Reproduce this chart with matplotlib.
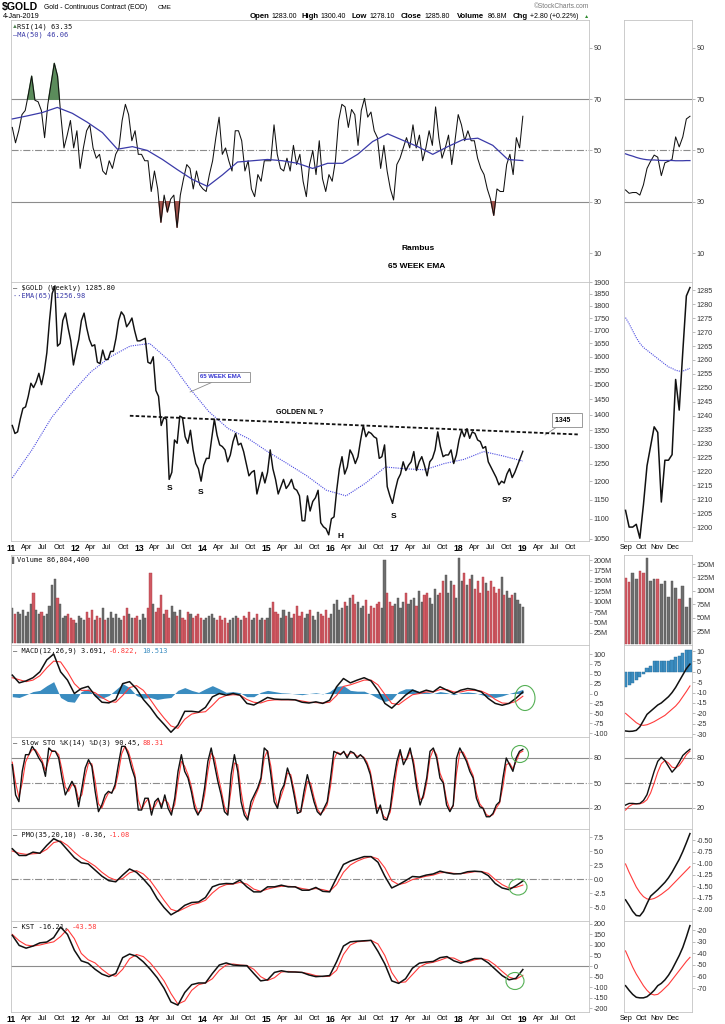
import numpy as np
import matplotlib.pyplot as plt
from matplotlib.patches import Ellipse
from matplotlib.ticker import NullLocator

plt.rcParams['font.family'] = ['Liberation Sans', 'DejaVu Sans']

W, H = 725, 1024

# --- weekly window: Jan 2011 .. 4 Jan 2019 ---
T0, T1 = 2011.02, 2019.01

price = [
    # 2011
    1365, 1340, 1345, 1385, 1420, 1425, 1460, 1505, 1490, 1510, 1540, 1500,
    1545, 1615, 1740, 1852, 1884, 1640, 1650, 1740, 1770, 1710, 1660, 1570,
    # 2012
    1620, 1665, 1740, 1770, 1710, 1665, 1640, 1645, 1580, 1575, 1625, 1590,
    1590, 1620, 1620, 1670, 1740, 1775, 1760, 1715, 1730, 1750, 1700, 1660,
    # 2013
    1660, 1665, 1670, 1580, 1575, 1600, 1480, 1460, 1365, 1390, 1385, 1205,
    1225, 1320, 1310, 1395, 1390, 1330, 1310, 1350, 1290, 1250, 1235, 1200,
    # 2014
    1245, 1265, 1265, 1325, 1385, 1335, 1305, 1300, 1290, 1255, 1275, 1315,
    1340, 1305, 1310, 1285, 1250, 1215, 1225, 1230, 1165, 1195, 1225, 1195,
    # 2015
    1225, 1290, 1235, 1205, 1165, 1185, 1205, 1180, 1190, 1205, 1180, 1175,
    1160, 1095, 1095, 1160, 1120, 1145, 1155, 1175, 1090, 1080, 1075, 1060,
    # 2016
    1100, 1105, 1175, 1235, 1270, 1220, 1240, 1290, 1275, 1250, 1270, 1320,
    1365, 1330, 1345, 1340, 1330, 1325, 1265, 1270, 1305, 1185, 1160, 1140,
    # 2017
    1175, 1205, 1220, 1255, 1230, 1245, 1255, 1285, 1230, 1255, 1270, 1245,
    1215, 1255, 1265, 1290, 1345, 1300, 1270, 1275, 1275, 1290, 1250, 1275,
    # 2018
    1320, 1350, 1330, 1355, 1325, 1345, 1340, 1320, 1315, 1295, 1300, 1255,
    1240, 1225, 1210, 1190, 1200, 1195, 1220, 1235, 1210, 1225, 1245, 1265,
    1285.8,
]

price_ema = [1209, 1290, 1390, 1470, 1545, 1600, 1640, 1650, 1585, 1490, 1410,
             1355, 1325, 1285, 1250, 1215, 1175, 1160, 1195, 1240, 1235, 1232,
             1250, 1262, 1285, 1272, 1257]

volume = [
    85, 70, 75, 70, 80, 65, 75, 95, 120, 80, 70, 75, 65, 70, 90, 140, 155, 110, 95, 60, 65, 70, 60, 55,
    50, 65, 60, 55, 75, 60, 80, 55, 65, 60, 85, 55, 60, 75, 60, 70, 60, 55, 65, 85, 70, 60, 60, 65,
    55, 70, 60, 85, 170, 95, 75, 85, 115, 70, 80, 60, 90, 75, 65, 80, 60, 55, 75, 70, 60, 65, 70, 60,
    55, 60, 65, 70, 60, 55, 65, 55, 60, 50, 55, 60, 65, 60, 55, 65, 60, 75, 55, 60, 70, 55, 60, 55,
    60, 85, 100, 75, 70, 60, 80, 65, 75, 60, 70, 90, 65, 75, 60, 70, 80, 65, 55, 75, 70, 65, 80, 60,
    70, 95, 105, 80, 85, 100, 90, 110, 115, 95, 100, 85, 90, 105, 70, 90, 85, 95, 100, 85, 200, 120, 100, 90,
    95, 110, 85, 100, 120, 95, 105, 110, 90, 125, 100, 115, 120, 110, 95, 130, 115, 120, 150, 165, 120, 150, 140, 110,
    205, 150, 170, 140, 155, 165, 130, 150, 120, 160, 145, 125, 150, 135, 120, 130, 160, 115, 125, 110, 115, 120, 105, 95,
    87,
]

rsi = [59, 53, 57.7, 64, 65.6, 72, 79, 69.6, 69, 65.6,
       55, 68, 76, 84, 79, 64, 51, 56, 61.7, 51,
       57.7, 43, 51, 57.7, 60, 51, 47, 48.5, 42, 40.6,
       46, 43, 48.5, 51, 61.7, 68, 64, 53.8, 57.7, 48.5,
       48.5, 46, 46, 34, 42, 35, 22, 32.6, 26, 31,
       32.6, 20, 32.6, 39, 44.5, 43, 35, 42, 36.6, 35,
       34, 40.6, 46, 55, 63, 48.5, 51, 46, 42, 57.7,
       57.7, 53.8, 42, 46, 35, 32, 40.6, 38, 46, 46,
       46, 60, 48.5, 43, 42, 47, 42, 52, 44.5, 48.5,
       38, 32, 44.5, 50, 40.6, 53.8, 39, 34, 40.6, 38,
       46, 61.7, 68, 67, 59, 66, 64, 52, 65.6, 70.3,
       63, 65, 57.7, 55, 43, 52, 42, 35, 30.7, 44.5,
       47, 51, 55, 51, 60, 51, 56, 46, 51, 57.7,
       52, 67, 55, 47, 51, 56, 44.5, 53.8, 64, 60,
       53.8, 57.7, 53.8, 53.8, 47, 43, 40.6, 35, 31, 24.7,
       35, 34, 34, 44.5, 48.5, 40.6, 55, 51, 63.35]

rsi_ma = [62.3, 63.5, 64.8, 66.8, 64.5, 61, 57, 50.5, 51.5, 50, 46.5, 42.5,
          38.7, 36, 40.5, 45.5, 46, 46.5, 46, 45, 43, 45, 45, 48.5, 53.5,
          56.5, 54, 51.5, 48.5, 51.5, 54.2, 54.8, 52, 46.5, 46.06]

macd = [46.6, 27, 32, 40, 55, 85, 100, 55, 34, 0,
        12.7, 18, -5, -22, -23.7, -15, 25, 30, 12, -15,
        -35, -59, -78, -98, -80, -45, -45, -47, -35, -8.5,
        0, -4, 0, -4, -25, -29, -20, -10, -14, -15,
        -15, -16, -22, -24, -21, -25, -17, 17, 38, 27,
        34, 40, 32, 8, -25, -37, -21, -4, 8.5, 2,
        8.5, 4, 17, 8.5, 0, 8.5, 12.7, 10, 4, -12.7,
        -25, -29.7, -25, -12, 3.691]
macd_sig = [40, 35, 30, 34, 45, 65, 82, 80, 55, 25,
            8, 8, 2, -10, -20, -22, -5, 15, 20, 8,
            -15, -40, -62, -82, -88, -65, -52, -48, -46, -30,
            -12, -5, -3, -4, -15, -22, -24, -18, -16, -16,
            -16, -16, -19, -22, -23, -24, -22, -5, 18, 22,
            28, 34, 34, 22, -2, -25, -28, -15, -3, 0,
            4, 4, 10, 10, 4, 4, 8, 8, 6, -2,
            -15, -24, -25, -20, -6.822]
macd_hist = [-8, -10, -3, 5, 8, 20, 30, -10, -20, -22,
             5, 12, -8, -12, -5, 10, 25, 15, -5, -12,
             -10, -15, -12, -10, 8, 15, 8, 3, 12, 20,
             12, 3, 5, 2, -8, -8, 3, 8, 5, 2,
             1, -1, -3, 0, 2, -1, 5, 18, 20, 8,
             6, 6, -2, -12, -20, -15, 5, 12, 12, 5,
             4, 0, 5, 2, -3, 2, 4, 2, -3, -8,
             -10, -6, 0, 5, 10.513]

sto_k = [72, 35.7, 27.6, 64, 84, 84, 94, 88, 80, 74,
         58, 92, 88, 88, 80, 56, 35.7, 44, 52, 44,
         21.6, 44, 68, 78, 70, 40, 15.6, 23.6, 35.7, 40,
         37.7, 48, 72, 94, 94, 84, 68, 56, 17.6, 17.6,
         31.7, 31.7, 11.5, 27.6, 31.7, 19.6, 35.7, 19.6, 11.5, 31.7,
         64, 84, 64, 56, 40, 19.6, 11.5, 19.6, 44, 76,
         92, 72, 52, 35.7, 15.6, 11.5, 60, 84, 64, 27.6,
         11.5, 5.5, 27.6, 35.7, 44, 56, 92, 88, 60, 27.6,
         19.6, 40, 48, 68, 56, 35.7, 13.5, 15.6, 40, 60,
         44, 27.6, 15.6, 11.5, 19.6, 27.6, 56, 88, 86, 84,
         88, 80, 88, 86, 80, 84, 80, 72, 60, 35.7,
         13.5, 23.6, 6.7, 5.5, 19.6, 52, 76, 90, 72, 80,
         92, 72, 44, 23.6, 35.7, 56, 88, 92, 80, 56,
         50, 23.6, 15.6, 23.6, 80, 92, 84, 76, 64, 56,
         31.7, 21.6, 19.6, 9.5, 9.5, 13.5, 23.6, 27.6, 56, 80,
         72, 64, 80, 88, 90.45]
sto_d = [75, 50, 33, 50, 75, 84, 90, 90, 84, 77,
         65, 78, 89, 88, 84, 66, 45, 40, 48, 47,
         30, 36, 58, 74, 73, 52, 25, 20, 30, 38,
         39, 44, 62, 85, 94, 88, 75, 60, 30, 18,
         26, 31, 18, 22, 30, 24, 30, 26, 15, 24,
         52, 76, 70, 60, 46, 26, 14, 17, 35, 64,
         86, 80, 60, 42, 22, 13, 42, 74, 72, 40,
         17, 8, 20, 32, 41, 52, 80, 89, 70, 38,
         22, 33, 45, 62, 60, 42, 20, 15, 32, 52,
         50, 33, 19, 13, 17, 24, 46, 78, 87, 85,
         87, 83, 86, 86, 82, 83, 81, 75, 64, 42,
         20, 20, 10, 7, 15, 40, 68, 86, 78, 78,
         88, 78, 52, 30, 32, 50, 80, 90, 84, 62,
         52, 30, 18, 22, 62, 87, 87, 79, 68, 59,
         38, 25, 20, 12, 10, 12, 20, 26, 46, 72,
         74, 67, 76, 86, 88.31]

pmo = [5.4, 4.2, 4.2, 4.8, 4.6, 6.0, 7.2, 6.6, 5.2, 3.8,
       2.9, 2.7, 1.6, 0.5, -0.3, -0.5, 0.7, 1.8, 1.2, 0.0,
       -1.4, -3.5, -5.1, -6.4, -5.7, -4.7, -4.2, -4.1, -3.3, -1.4,
       -0.95, -0.8, -0.85, -0.2, -1.4, -2.3, -2.3, -1.4, -1.4, -1.1,
       -1.4, -1.4, -2.0, -2.0, -1.5, -2.2, -2.3, 0.2, 2.6, 3.2,
       3.6, 4.0, 4.0, 3.0, 0.5, -1.6, -1.0, -0.3, 0.45, 0.35,
       0.7, 0.9, 1.4, 1.1, 0.9, 0.95, 1.3, 1.4, 1.3, 0.6,
       -0.8, -1.6, -1.9, -1.2, -0.36]
pmo_sig = [5.0, 4.6, 4.4, 4.5, 4.6, 5.3, 6.5, 6.8, 6.0, 4.8,
           3.8, 3.1, 2.3, 1.2, 0.3, -0.2, 0.1, 1.1, 1.5, 0.9,
           -0.3, -2.0, -3.8, -5.4, -5.8, -5.2, -4.6, -4.3, -3.8, -2.5,
           -1.5, -1.0, -0.9, -0.6, -0.9, -1.8, -2.2, -1.8, -1.5, -1.3,
           -1.3, -1.4, -1.7, -1.9, -1.7, -1.9, -2.2, -1.0, 1.2, 2.5,
           3.2, 3.7, 4.0, 3.6, 2.0, -0.3, -1.0, -0.7, -0.1, 0.2,
           0.5, 0.7, 1.1, 1.2, 1.0, 0.95, 1.1, 1.3, 1.35, 1.0,
           -0.1, -1.0, -1.6, -1.5, -1.08]

kst = [146, 98, 85, 95, 110, 114, 135, 185, 150, 75,
       25, 14, -15, -38, -50, -35, 40, 57, 47, 20,
       -15, -55, -105, -170, -185, -125, -88, -80, -80, -35,
       5, 15, 5, 3, 2, -35, -70, -65, -30, -22,
       -28, -28, -30, -42, -50, -48, -45, 20, 95, 115,
       118, 120, 122, 70, 10, -70, -82, -60, -10, 14,
       19, 22, 40, 45, 25, 14, 25, 36, 36, 15,
       -15, -45, -65, -58, -16.21]
kst_sig = [150, 120, 100, 95, 100, 108, 115, 140, 175, 130,
           60, 30, 15, -15, -40, -48, -15, 35, 55, 45,
           15, -25, -70, -130, -180, -165, -115, -88, -80, -60,
           -20, 5, 10, 5, 3, -15, -50, -68, -55, -28,
           -25, -28, -30, -36, -45, -50, -48, -20, 55, 100,
           115, 118, 122, 105, 50, -30, -78, -75, -40, -5,
           12, 18, 28, 40, 38, 22, 20, 30, 36, 28,
           5, -25, -52, -62, -43.58]

# neckline drawn on the price panel
neck_t = [2012.86, 2019.87]
neck_v = [1396, 1337]

# --- zoom window: weekly, 31 Aug 2018 .. 4 Jan 2019 ---
zoom_dates = np.arange(np.datetime64('2018-08-31'), np.datetime64('2019-01-05'), 7)
price_z = [1206, 1200, 1200, 1201, 1196, 1208, 1222, 1229, 1236, 1234, 1209,
           1224, 1224, 1226, 1253, 1242, 1263, 1283, 1286]
ema_z = [1275.2, 1273, 1270.5, 1268, 1266, 1264.5, 1263.5, 1262.5, 1261.5,
         1260.5, 1259.5, 1258.5, 1257.5, 1257, 1256.3, 1256, 1256, 1256.5, 1257]
rsi_z = [34.6, 33.3, 33.6, 33.6, 32.6, 36.6, 43.0, 45.8, 48.2, 47.4, 40.2,
         45.2, 45.8, 46.5, 55.3, 51.4, 55.3, 62.3, 63.35]
rsi_ma_z = [48.7, 48.2, 47.8, 47.3, 46.9, 46.6, 46.4, 46.3, 46.3, 46.2, 46.1,
            46.1, 46.1, 46.1, 46.0, 46.0, 46.0, 46.06, 46.06]
vol_z = [124, 116, 133, 122, 137.5, 133, 161, 117.5, 122, 122, 112.5, 119,
         89, 117.5, 105, 85, 109, 69, 87]
vol_z_down = [1, 1, 0, 0, 1, 1, 0, 0, 0, 1, 0, 0, 0, 0, 0, 1, 0, 0, 0]
macd_z = [-28.5, -28.7, -28.6, -28.2, -26.5, -23.5, -20.5, -19, -17.5, -16,
          -15, -13.5, -12, -10, -7.5, -4.5, -1.5, 1.5, 3.691]
macd_sig_z = [-20, -21.5, -23, -24.5, -25.5, -25.8, -25.5, -24.8, -24, -23,
              -22, -21, -19.5, -18, -16.5, -14.5, -12, -9.5, -6.822]
macd_hist_z = [-7.5, -6.5, -5.5, -4, -2.5, -1, 2, 3, 5, 5, 5, 5, 5, 5.5, 7,
               7.5, 9, 10.5, 10.5]
sto_k_z = [23.5, 25.5, 25.5, 25, 25.5, 29, 36, 50, 64, 76, 81, 77, 70, 63,
           68, 75, 83, 87, 90.45]
sto_d_z = [17.5, 22, 24.5, 25, 25, 26.5, 30, 38, 50, 63, 73, 77, 74, 69, 68,
           71, 77, 84, 88.31]
pmo_z = [-1.80, -1.92, -2.05, -2.14, -2.15, -2.05, -1.88, -1.72, -1.65, -1.58,
         -1.50, -1.42, -1.32, -1.20, -1.06, -0.92, -0.75, -0.56, -0.36]
pmo_sig_z = [-1.02, -1.20, -1.36, -1.52, -1.64, -1.73, -1.78, -1.79, -1.77,
             -1.73, -1.68, -1.62, -1.56, -1.48, -1.40, -1.32, -1.24, -1.16, -1.08]
kst_z = [-68, -72, -75.5, -78, -78.5, -78.5, -77.5, -75, -72, -68, -66, -63,
         -59, -54, -48, -42, -35, -26, -16.21]
kst_sig_z = [-38, -45, -52, -58, -63, -68, -72, -75, -76, -75.5, -73, -70,
             -67, -63, -59, -55, -51, -47, -43.58]

# --- layout helpers ---
fig = plt.figure(figsize=(W / 100, H / 100), dpi=100)
fig.patch.set_facecolor('white')

MX0, MX1 = 11, 589
SX0, SX1 = 624, 692
ROWS = [(20, 282), (282, 541), (555, 645), (645, 737), (737, 829), (829, 921), (921, 1012)]
MAIN_XLIM = (2011.0, 2011.0 + (MX1 - MX0) / 63.9)
ZOOM_XLIM = (np.datetime64('2018-08-28'), np.datetime64('2019-01-08'))

BLACK = '#111111'
RED = '#ff3b3b'
BLUE = '#3a3aa8'
GRID = '#8c8c8c'
MONO = 'DejaVu Sans Mono'


def axes_px(x0, y0, x1, y1):
    return fig.add_axes([x0 / W, 1 - y1 / H, (x1 - x0) / W, (y1 - y0) / H])


def txt(x, y, s, **kw):
    kw.setdefault('fontsize', 5.3)
    kw.setdefault('va', 'center')
    kw.setdefault('ha', 'left')
    fig.text(x / W, 1 - y / H, s, **kw)


def style(ax, ylim, ticks, labels, log=False):
    if log:
        ax.set_yscale('log')
    ax.set_ylim(*ylim)
    ax.yaxis.tick_right()
    ax.set_yticks(ticks)
    ax.set_yticklabels(labels)
    ax.yaxis.set_minor_locator(NullLocator())
    ax.tick_params(axis='y', which='both', direction='out', length=2.5, width=0.5,
                   colors='#a0a0a0', labelcolor='#333333', labelsize=5.2, pad=1)
    ax.tick_params(axis='x', length=0, labelbottom=False)
    for sp in ax.spines.values():
        sp.set_color('#c4c4c4')
        sp.set_linewidth(0.6)


def legend(y, parts, x=13):
    # parts: list of (text, colour); monospace so offsets follow char count
    cw = 0.602 * 5.0 * 100 / 72
    pos = x
    for s, c in parts:
        txt(pos, y, s, fontsize=5.0, family=MONO, color=c)
        pos += (len(s) + 1) * cw


def hline(ax, v, ls='-'):
    ax.axhline(v, color=GRID, lw=0.8, ls=ls, zorder=1)


main, zoom = [], []
for top, bot in ROWS:
    a = axes_px(MX0, top, MX1, bot)
    b = axes_px(SX0, top, SX1, bot)
    a.set_xlim(*MAIN_XLIM)
    main.append(a)
    zoom.append(b)

ax_rsi, ax_px, ax_vol, ax_macd, ax_sto, ax_pmo, ax_kst = main
zr, zp, zv, zm, zs, zpm, zk = zoom


def tline(series):
    return np.linspace(T0, T1, len(series))


# --- RSI ---
t = tline(rsi)
r = np.array(rsi)
ax_rsi.plot(t, r, color=BLACK, lw=0.75, zorder=3)
ax_rsi.fill_between(t, r, 70, where=r > 70, interpolate=True, color='#5b8c5b', zorder=2)
ax_rsi.fill_between(t, r, 30, where=r < 30, interpolate=True, color='#a3524c', zorder=2)
ax_rsi.plot(tline(rsi_ma), rsi_ma, color=BLUE, lw=0.9, zorder=3)
zr.plot(zoom_dates, rsi_z, color=BLACK, lw=0.75, zorder=3)
zr.plot(zoom_dates, rsi_ma_z, color=BLUE, lw=0.9, zorder=3)
for a in (ax_rsi, zr):
    hline(a, 70)
    hline(a, 30)
    hline(a, 50, ls='-.')
    style(a, (-1.3, 100.9), [10, 30, 50, 70, 90], ['10', '30', '50', '70', '90'])

# --- price ---
ax_px.plot(tline(price), price, color=BLACK, lw=1.05, zorder=3)
ax_px.plot(tline(price_ema), price_ema, color='#4a4ae0', lw=0.8, ls=(0, (1, 1)), zorder=2)
ax_px.plot(neck_t, neck_v, color=BLACK, lw=1.3, ls=(0, (2, 1.2)), zorder=4)
zp.plot(zoom_dates, price_z, color=BLACK, lw=1.1, zorder=3)
zp.plot(zoom_dates, ema_z, color='#4a4ae0', lw=0.8, ls=(0, (1, 1)), zorder=2)
pt = list(range(1050, 1901, 50))
style(ax_px, (1045, 1902), pt, [str(v) for v in pt], log=True)
zt = list(range(1200, 1286, 5))
style(zp, (1195, 1288), zt, [str(v) for v in zt])

# --- volume ---
tv = tline(volume)
step = tv[1] - tv[0]
down = np.r_[False, np.diff(price) < 0]
ax_vol.bar(tv, volume, width=step * 0.8,
           color=np.where(down, '#cf5a63', '#6e6e6e'),
           edgecolor=np.where(down, '#b03a44', '#505050'), linewidth=0.3, zorder=2)
zv.bar(zoom_dates, vol_z, width=5.2,
       color=['#cf5a63' if d else '#6e6e6e' for d in vol_z_down],
       edgecolor=['#b03a44' if d else '#505050' for d in vol_z_down], linewidth=0.3)
vt = [25, 50, 75, 100, 125, 150, 175, 200]
style(ax_vol, (-3.8, 212), vt, [f'{v}M' for v in vt])
style(zv, (-1.1, 166.8), vt[:6], [f'{v}M' for v in vt[:6]])

# --- MACD ---
tm = tline(macd)
ax_macd.fill_between(tm, macd_hist, 0, color='#3a8cc0', lw=0, zorder=2)
ax_macd.plot(tm, macd_sig, color=RED, lw=0.8, zorder=3)
ax_macd.plot(tm, macd, color=BLACK, lw=1.1, zorder=4)
zm.bar(zoom_dates, macd_hist_z, width=6.2, color='#3a8cc0', edgecolor='#2a6d99', linewidth=0.3)
zm.plot(zoom_dates, macd_sig_z, color=RED, lw=0.8)
zm.plot(zoom_dates, macd_z, color=BLACK, lw=1.1)
mt = [-100, -75, -50, -25, 0, 25, 50, 75, 100]
style(ax_macd, (-110, 122.8), mt, [str(v) for v in mt])
zmt = [-30, -25, -20, -15, -10, -5, 0, 5, 10]
style(zm, (-31.4, 12.9), zmt, [str(v) for v in zmt])

# --- slow stochastic ---
ts = tline(sto_k)
ax_sto.plot(ts, sto_d, color=RED, lw=0.8, zorder=3)
ax_sto.plot(ts, sto_k, color=BLACK, lw=1.0, zorder=4)
zs.plot(zoom_dates, sto_d_z, color=RED, lw=0.8)
zs.plot(zoom_dates, sto_k_z, color=BLACK, lw=1.0)
for a in (ax_sto, zs):
    hline(a, 80)
    hline(a, 20)
    hline(a, 50, ls='-.')
    style(a, (-5.2, 105.2), [20, 50, 80], ['20', '50', '80'])

# --- PMO ---
tp = tline(pmo)
ax_pmo.plot(tp, pmo_sig, color=RED, lw=0.8, zorder=3)
ax_pmo.plot(tp, pmo, color=BLACK, lw=1.1, zorder=4)
hline(ax_pmo, 0, ls='-.')
zpm.plot(zoom_dates, pmo_sig_z, color=RED, lw=0.8)
zpm.plot(zoom_dates, pmo_z, color=BLACK, lw=1.1)
pmt = [-5.0, -2.5, 0.0, 2.5, 5.0, 7.5]
style(ax_pmo, (-7.5, 8.93), pmt, [f'{v:.1f}' for v in pmt])
zpt = [-2.0, -1.75, -1.5, -1.25, -1.0, -0.75, -0.5]
style(zpm, (-2.26, -0.26), zpt, [f'{v:.2f}' for v in zpt])

# --- KST ---
tk = tline(kst)
ax_kst.plot(tk, kst_sig, color=RED, lw=0.8, zorder=3)
ax_kst.plot(tk, kst, color=BLACK, lw=1.1, zorder=4)
hline(ax_kst, 0)
zk.plot(zoom_dates, kst_sig_z, color=RED, lw=0.8)
zk.plot(zoom_dates, kst_z, color=BLACK, lw=1.1)
kt = list(range(-200, 201, 50))
style(ax_kst, (-217.5, 213.7), kt, [str(v) for v in kt])
zkt = [-70, -60, -50, -40, -30, -20]
style(zk, (-90.7, -12.2), zkt, [str(v) for v in zkt])

for a in zoom:
    a.set_xlim(*ZOOM_XLIM)

# --- date labels ---
tick_pos, tick_lab = [], []
for yr in range(2011, 2020):
    tick_pos += [yr, yr + 0.25, yr + 0.5, yr + 0.75]
    tick_lab += [str(yr)[2:], 'Apr', 'Jul', 'Oct']
for a in (ax_px, ax_kst):
    a.set_xticks(tick_pos)
    a.set_xticklabels(tick_lab)
    a.tick_params(axis='x', labelbottom=True, labelsize=5.2, pad=2, length=0)
    for lab in a.get_xticklabels():
        if lab.get_text().isdigit():
            lab.set_fontweight('bold')
            lab.set_fontsize(6.2)
month_ticks = [np.datetime64(d) for d in ('2018-09-01', '2018-10-01', '2018-11-01', '2018-12-01')]
for a in (zp, zk):
    a.set_xticks(month_ticks)
    a.set_xticklabels(['Sep', 'Oct', 'Nov', 'Dec'])
    a.tick_params(axis='x', labelbottom=True, labelsize=5.2, pad=2, length=0)

# --- header ---
txt(2, 7, '$GOLD', fontsize=7.6, fontweight='bold')
txt(44, 7.5, 'Gold - Continuous Contract (EOD)', fontsize=4.9)
txt(158, 7.5, 'CME', fontsize=4.5)
txt(3, 16.5, '4-Jan-2019', fontsize=5.2)
txt(589, 6.5, '\u00a9StockCharts.com', fontsize=4.8, color='#777777', ha='right')
hdr = [(250, 'Open', True), (271, '1283.00', False), (302, 'High', True), (320, '1300.40', False),
       (352, 'Low', True), (369, '1278.10', False), (401, 'Close', True), (424, '1285.80', False),
       (457, 'Volume', True), (488, '86.8M', False), (513, 'Chg', True), (530, '+2.80 (+0.22%)', False)]
for x, s, b in hdr:
    txt(x, 16.5, s, fontsize=5.6 if b else 5.0, fontweight='bold' if b else 'normal')
txt(584, 16.5, '\u25b2', fontsize=3.8, color='#2e8b2e')

# --- panel legends ---
txt(12, 27, '\u25b2', fontsize=4.2, color='#4d7f4d')
legend(27, [('RSI(14) 63.35', BLACK)], x=17)
legend(35, [('\u2014MA(50) 46.06', BLUE)])
legend(287.5, [('\u2014 $GOLD (Weekly) 1285.80', BLACK)])
legend(295.5, [('\u00b7\u00b7EMA(65) 1256.98', BLUE)])
txt(12, 560, '\u258c', fontsize=4.5, color='#666666')
legend(560, [('Volume 86,804,400', BLACK)], x=17)
legend(651, [('\u2014 MACD(12,26,9) 3.691,', BLACK), ('-6.822,', RED), ('10.513', '#3a8cc0')])
legend(743, [('\u2014 Slow STO %K(14) %D(3) 90.45,', BLACK), ('88.31', RED)])
legend(835, [('\u2014 PMO(35,20,10) -0.36,', BLACK), ('-1.08', RED)])
legend(927, [('\u2014 KST -16.21,', BLACK), ('-43.58', RED)])

# --- chart notes ---
txt(418, 249, 'Rambus', fontsize=6, fontweight='bold', ha='center')
txt(417, 266, '65 WEEK EMA', fontsize=6, fontweight='bold', ha='center')


def fpx(x, y):
    return (x / W, 1 - y / H)


ax_px.annotate('GOLDEN NL ?', xy=fpx(300, 412), xycoords='figure fraction',
               fontsize=5, fontweight='bold', ha='center', va='center')
for x, y, s in [(170, 489, 'S'), (201, 493, 'S'), (341, 536, 'H'), (394, 517, 'S'), (507, 500, 'S?')]:
    ax_px.annotate(s, xy=fpx(x, y), xycoords='figure fraction', fontsize=6,
                   fontweight='bold', ha='center', va='center')
ax_px.annotate('1345    ', xy=fpx(545, 435), xycoords='figure fraction',
               xytext=fpx(567, 420), textcoords='figure fraction',
               fontsize=5, fontweight='bold', ha='center', va='center',
               bbox=dict(boxstyle='square,pad=0.5', fc='white', ec='#8a8a8a', lw=0.6),
               arrowprops=dict(arrowstyle='-', color='#8a8a8a', lw=0.6, shrinkA=0, shrinkB=0))
ax_px.annotate('65 WEEK EMA    ', xy=fpx(190, 392), xycoords='figure fraction',
               xytext=fpx(224, 377), textcoords='figure fraction',
               fontsize=4.3, fontweight='bold', color='#3434d0', ha='center', va='center',
               bbox=dict(boxstyle='square,pad=0.45', fc='white', ec='#8a8a8a', lw=0.6),
               arrowprops=dict(arrowstyle='-', color='#8a8a8a', lw=0.6, shrinkA=0, shrinkB=0))

for x, y, w, h in [(525, 698, 20, 25), (520, 754, 17, 17), (518, 887, 18, 16), (515, 981, 18, 17)]:
    fig.add_artist(Ellipse(fpx(x, y), w / W, h / H, transform=fig.transFigure,
                           fill=False, ec='#55b055', lw=0.8))

fig.savefig('out.png', dpi=100, facecolor='white')
